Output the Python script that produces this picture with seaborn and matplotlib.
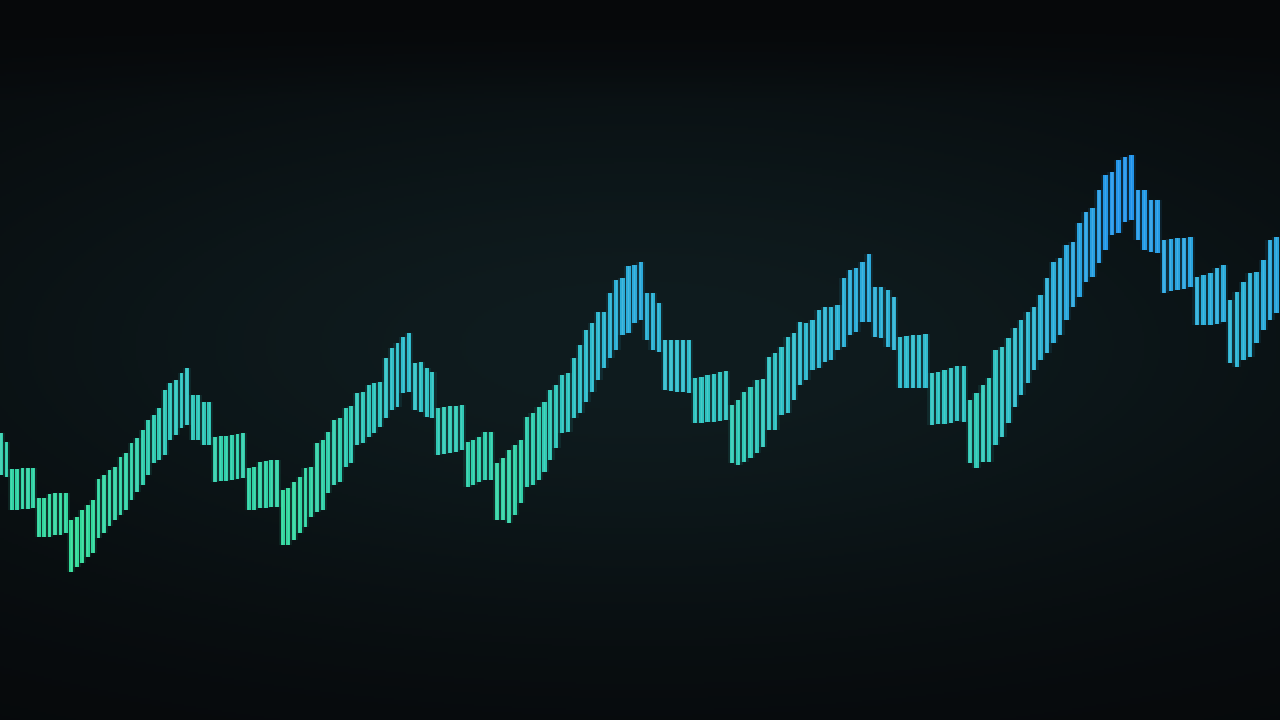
import numpy as np
import matplotlib
matplotlib.use('Agg')
import matplotlib.pyplot as plt
import seaborn as sns

# price range of each session (high / low), left to right
high = [287, 278, 251, 251, 252, 252, 252, 222, 222, 226, 227, 227, 227,
        200, 203, 210, 215, 220, 241, 245, 250, 253, 263, 267, 277, 282, 290, 300,
        305, 312, 330, 337, 340, 347, 352, 325, 325, 318, 318,
        283, 284, 284, 285, 286, 287, 252, 253, 258, 259, 260, 260,
        230, 232, 238, 243, 252, 253, 277, 280, 288, 300, 302, 312, 314, 327, 328,
        335, 337, 338, 362, 372, 377, 383, 387, 357, 358, 352, 348,
        312, 313, 314, 314, 315, 278, 280, 283, 288, 288,
        257, 262, 270, 275, 280, 303, 307, 313, 318, 330, 335, 345, 347, 362, 375,
        390, 397, 408, 408, 427, 440, 442, 454, 455, 458, 427, 427, 417,
        380, 380, 380, 380, 380, 342, 343, 345, 346, 348, 349,
        315, 320, 328, 333, 340, 341, 363, 367, 373, 383, 387, 398, 397, 400, 410,
        413, 413, 415, 442, 450, 452, 458, 466, 433, 433, 430, 423,
        383, 384, 385, 385, 386, 347, 348, 350, 352, 354, 354,
        320, 327, 335, 342, 370, 373, 382, 392, 400, 408, 413, 425, 442, 458, 462,
        475, 478, 497, 508, 512, 530, 545, 548, 560, 563, 565, 530, 530, 520, 520,
        480, 481, 482, 482, 483, 443, 445, 447, 452, 455,
        420, 428, 438, 447, 448, 460, 480, 483]
low = [245, 243, 210, 210, 211, 211, 212, 183, 183, 183, 185, 185, 187,
       148, 153, 157, 163, 167, 182, 187, 194, 200, 205, 210, 220, 228, 235, 245,
       257, 260, 265, 280, 285, 292, 295, 280, 280, 275, 275,
       238, 239, 239, 240, 241, 242, 210, 210, 212, 212, 213, 213,
       175, 175, 180, 187, 193, 203, 208, 210, 227, 235, 238, 253, 257, 275, 277,
       283, 287, 293, 302, 310, 313, 327, 328, 310, 308, 303, 302,
       265, 266, 267, 268, 270, 233, 235, 238, 240, 240,
       200, 200, 197, 205, 217, 233, 235, 240, 248, 260, 272, 287, 288, 302, 307,
       318, 328, 340, 352, 362, 370, 385, 387, 397, 400, 380, 370, 368,
       330, 329, 328, 328, 327, 297, 297, 298, 298, 299, 300,
       257, 255, 258, 262, 267, 273, 290, 290, 305, 307, 320, 335, 340, 350, 352,
       358, 360, 370, 373, 385, 388, 398, 398, 383, 382, 373, 370,
       332, 332, 332, 332, 332, 295, 296, 296, 297, 299, 298,
       257, 252, 258, 258, 275, 283, 297, 313, 325, 337, 350, 360, 367, 377, 385,
       400, 413, 423, 438, 443, 457, 470, 485, 487, 498, 500, 480, 470, 468, 467,
       427, 429, 430, 431, 433, 395, 395, 395, 396, 398,
       357, 353, 360, 363, 377, 390, 400, 407]
session = np.arange(len(high))

high = np.array(high)
low = np.array(low)
mid = (high + low) / 2

sns.set_theme(style='dark')

# bars get slightly wider apart towards the right (perspective look)
a, b = 5.37, 0.00307
def fwd(i):
    i = np.asarray(i, dtype=float)
    return a * i + b * i * i
def inv(p):
    p = np.asarray(p, dtype=float)
    return (-a + np.sqrt(np.clip(a * a + 4 * b * p, 0, None))) / (2 * b)

fig = plt.figure(figsize=(12.8, 7.2), dpi=100)

# dark vignette background
bg = fig.add_axes([0, 0, 1, 1], zorder=0)
gx, gy = np.meshgrid(np.linspace(0, 1, 640), np.linspace(0, 1, 360))
w = np.exp(-((gx - 0.5) / 0.62) ** 2 - ((gy - 0.48) / 0.40) ** 2)
w = w * np.clip((gy - 0.02) / 0.12, 0, 1)
edge = np.array([6, 8, 10]) / 255
center = np.array([15, 28, 31]) / 255
img = edge + (center - edge) * w[..., None]
bg.imshow(img, extent=(0, 1, 0, 1), aspect='auto', origin='upper')
bg.set_axis_off()

ax = fig.add_axes([0, 0, 1, 1], zorder=1)
ax.patch.set_alpha(0)
ax.set_xscale('function', functions=(fwd, inv))

cmap = sns.blend_palette(['#34da98', '#30cdab', '#2fbccb', '#2aa6dc', '#2193ea'], as_cmap=True)
tone = (mid - mid.min()) / (mid.max() - mid.min())
colors = cmap(tone)

# glow, body and bright core of each bar
ax.bar(session, high - low, bottom=low, width=1.4, color=colors, alpha=0.10, linewidth=0)
ax.bar(session, high - low, bottom=low, width=0.68, color=colors, linewidth=0)
ax.bar(session, high - low, bottom=low, width=0.22, color='white', alpha=0.12, linewidth=0)

ax.set_xlim(-0.19, 212.5)
ax.set_ylim(0, 720)
ax.set_axis_off()

fig.savefig('out.png', dpi=100)
